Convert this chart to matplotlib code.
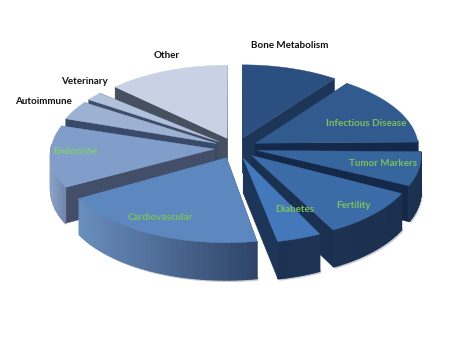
import numpy as np
import matplotlib
matplotlib.use('Agg')
import matplotlib.pyplot as plt
from matplotlib.patches import Polygon
from matplotlib.colors import to_rgb

# share of each slice, clockwise from 12 o'clock
labels = ['Bone Metabolism', 'Infectious Disease', 'Tumor Markers', 'Fertility', 'Diabetes',
          'Cardiovascular', 'Endocrine', 'Autoimmune', 'Veterinary', 'Other']
shares = [10.2, 14.8, 7.4, 10.1, 4.5, 20.0, 13.0, 4.2, 2.4, 13.4]
gap_after = [0.0, 0.5, 0.5, 0.5, 0.3, 0.4, 0.4, 0.3, 1.0, 0.0]

top_colors = ['#2b4f80', '#315b8f', '#37659e', '#3c6ca8', '#4379ba',
              '#5c88bf', '#819ecb', '#9db2d3', '#b1c1dc', '#c8d2e4']
cut_colors = ['#1d3556', '#14284a', '#14284a', '#1a3050', '#1d3558',
              '#2f4468', '#434f68', '#39496a', '#3f4d68', '#46505f']
rim_left = ['#24426c', '#1d3252', '#1d3252', '#1d3252', '#1d3252',
            '#6a8fbe', '#8ba2c8', '#8ba2c8', '#8ba2c8', '#8ba2c8']
rim_right = ['#24426c', '#1d3252', '#1b2f4e', '#1b2f4e', '#1f3454',
             '#2f4468', '#6f85ab', '#6f85ab', '#6f85ab', '#6f85ab']
text_colors = ['#111111', '#7cc05c', '#7cc05c', '#7cc05c', '#7cc05c',
               '#7cc05c', '#7fcf70', '#111111', '#111111', '#111111']
label_pos = [(290, 46), (366, 123), (383, 163), (354, 206), (295, 210),
             (160, 217), (75, 152), (43, 102), (84, 81), (167, 55)]

CX, CY = 236, 148
R = 163
EXPLODE = 22
K = 0.485
DEPTH = 35
PERSP = 0.06


def project(theta, r, off_theta):
    x = r * np.sin(theta) + EXPLODE * np.sin(off_theta)
    y = -r * np.cos(theta) - EXPLODE * np.cos(off_theta)
    s = 1 + PERSP * y / R
    return CX + x * s, CY + y * K * s, s


def mix(a, b, t):
    a, b = np.array(to_rgb(a)), np.array(to_rgb(b))
    return tuple(a + (b - a) * t)


fig = plt.figure(figsize=(4.74, 3.55), dpi=100)
ax = fig.add_axes([0, 0, 1, 1])
ax.set_xlim(0, 474)
ax.set_ylim(355, 0)
ax.axis('off')

cum = np.cumsum([0] + shares)
edges = cum / sum(shares) * 2 * np.pi
mids = (edges[:-1] + edges[1:]) / 2
order = np.argsort(-np.cos(mids))
gaps = np.array(gap_after) / sum(shares) * 2 * np.pi

for i in order:
    start = edges[i] + gaps[i - 1] / 2
    end = edges[i + 1] - gaps[i] / 2
    th = np.linspace(start, end, 40)
    mid = mids[i]
    px, py, _ = project(0.0, 0, mid)
    xs, ys, ss = project(th, R, mid)
    d = DEPTH * ss

    # soft edge under the wall, front slices only
    if np.cos(mid) < 0.3:
        front = np.cos(th) < 0.05
        ax.fill(np.r_[xs[front] + 1.5, (xs[front] + 1.5)[::-1]],
                np.r_[ys[front] + d[front] + 2, (ys[front] + d[front] - 2)[::-1]],
                color='#c9ccd2', lw=0, zorder=1)

    # grey strip down the straight cut beside the centre gap
    if abs(xs[0] - px) < 3 or abs(xs[-1] - px) < 3:
        ax.plot([px, px], [py - 40, py + DEPTH], color='#9aa0aa', lw=1.2, zorder=1)

    z = 2 + list(order).index(i) * 3
    # cut faces
    for j in [0, -1]:
        ax.add_patch(Polygon([(px, py), (xs[j], ys[j]), (xs[j], ys[j] + d[j]), (px, py + DEPTH)],
                             fc=cut_colors[i], ec=cut_colors[i], lw=0.3, zorder=z))
    # outer rim, short facets so the shade can change along it
    for j in range(len(th) - 1):
        if np.cos(th[j]) > 0.05:
            continue
        t = (xs[j] - xs.min()) / max(xs.max() - xs.min(), 1)
        c = mix(rim_left[i], rim_right[i], t)
        ax.add_patch(Polygon([(xs[j], ys[j]), (xs[j + 1], ys[j + 1]),
                              (xs[j + 1], ys[j + 1] + d[j + 1]), (xs[j], ys[j] + d[j])],
                             fc=c, ec=c, lw=1.0, zorder=z + 1))
    # top face
    ax.add_patch(Polygon(np.c_[np.r_[px, xs], np.r_[py, ys]], fc=top_colors[i],
                         ec=top_colors[i], lw=0.3, zorder=z + 2))

for name, pos, col in zip(labels, label_pos, text_colors):
    ax.text(pos[0], pos[1], name, color=col, ha='center', va='center', fontsize=7.1,
            family='Lato', weight='bold', zorder=50)

fig.savefig('out.png', dpi=100)
